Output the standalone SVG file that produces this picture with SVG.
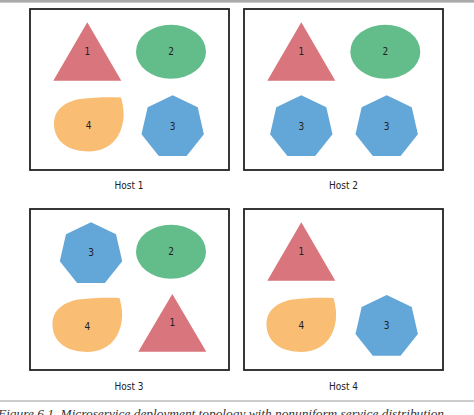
<svg xmlns="http://www.w3.org/2000/svg" xmlns:xlink="http://www.w3.org/1999/xlink" width="474" height="415" viewBox="0 0 474 415">
<style>
.host{fill:#fff;stroke:#222;stroke-width:1.8}
.tri{fill:#d9757c}
.ell{fill:#63bd8b}
.hep{fill:#63a6d8}
.drop{fill:#f9bd74}
.lbl{font-family:"Liberation Sans Narrow","DejaVu Sans Condensed","Liberation Sans",sans-serif;font-stretch:condensed;font-size:10px;fill:#222;text-anchor:middle}
.cap{font-family:"Liberation Serif",serif;font-style:italic;font-size:13px;fill:#333}
</style>
<defs>
<polygon id="triS" points="0,0 34,58.4 -34,58.4"/>
<polygon id="hepS" points="0,-32 25.02,-19.95 31.2,7.12 13.88,28.83 -13.88,28.83 -31.2,7.12 -25.02,-19.95"/>
<ellipse id="ellS" cx="0" cy="0" rx="35" ry="27"/>
<path id="dropS" d="M121,97.5 C124,108 126,122 118,136 C110,149 96,153 82,151 C64,149 54,138 54,124 C54,110 64,102 80,99 C95,97 110,97 121,97.5 Z"/>
</defs>
<rect x="0" y="0" width="474" height="2.6" fill="#aaaaaa"/>
<g id="host1">
<rect class="host" x="30" y="9" width="199" height="161"/>
<text class="lbl" x="129" y="188.5">Host 1</text>
</g>
<g id="host2">
<rect class="host" x="244" y="9" width="199" height="161"/>
<text class="lbl" x="343.5" y="188.5">Host 2</text>
</g>
<g id="host3">
<rect class="host" x="30" y="209" width="199" height="161"/>
<text class="lbl" x="129" y="390">Host 3</text>
</g>
<g id="host4">
<rect class="host" x="244" y="209" width="199" height="161"/>
<text class="lbl" x="343.5" y="390">Host 4</text>
</g>
<g id="connectors"/>
<g id="h1-s1"><use href="#triS" class="tri" x="87.3" y="22.3"/><text class="lbl" x="87.3" y="55">1</text></g>
<g id="h1-s2"><use href="#ellS" class="ell" x="171" y="51.7"/><text class="lbl" x="171" y="55">2</text></g>
<g id="h1-s4"><use href="#dropS" class="drop"/><text class="lbl" x="88.7" y="128.5">4</text></g>
<g id="h1-s3"><use href="#hepS" class="hep" x="172.7" y="127.2"/><text class="lbl" x="172.5" y="129.5">3</text></g>
<g id="h2-s1"><use href="#triS" class="tri" x="301.3" y="22.3"/><text class="lbl" x="301.3" y="55">1</text></g>
<g id="h2-s2"><use href="#ellS" class="ell" x="385.3" y="51.7"/><text class="lbl" x="385.3" y="55">2</text></g>
<g id="h2-s3a"><use href="#hepS" class="hep" x="301.3" y="127.2"/><text class="lbl" x="301.3" y="129.5">3</text></g>
<g id="h2-s3b"><use href="#hepS" class="hep" x="386.7" y="127.2"/><text class="lbl" x="386.7" y="129.5">3</text></g>
<g id="h3-s3"><use href="#hepS" class="hep" x="91" y="254.2"/><text class="lbl" x="91" y="256">3</text></g>
<g id="h3-s2"><use href="#ellS" class="ell" x="171" y="251.7"/><text class="lbl" x="171" y="255">2</text></g>
<g id="h3-s4"><use href="#dropS" class="drop" x="-1.5" y="200.5"/><text class="lbl" x="87.3" y="329.5">4</text></g>
<g id="h3-s1"><polygon class="tri" points="172.3,294 206.3,351.7 138.3,351.7"/><text class="lbl" x="172.3" y="326">1</text></g>
<g id="h4-s1"><use href="#triS" class="tri" x="301.3" y="222.3"/><text class="lbl" x="301.3" y="255">1</text></g>
<g id="h4-s4"><use href="#dropS" class="drop" x="212.5" y="200.5"/><text class="lbl" x="301.3" y="328.5">4</text></g>
<g id="h4-s3"><use href="#hepS" class="hep" x="386.7" y="327"/><text class="lbl" x="386.7" y="328.5">3</text></g>
<line x1="0" y1="401" x2="474" y2="401" stroke="#999" stroke-width="1"/>
<text class="cap" x="-2" y="417.5" textLength="446" lengthAdjust="spacingAndGlyphs">Figure 6.1. Microservice deployment topology with nonuniform service distribution</text>
</svg>
